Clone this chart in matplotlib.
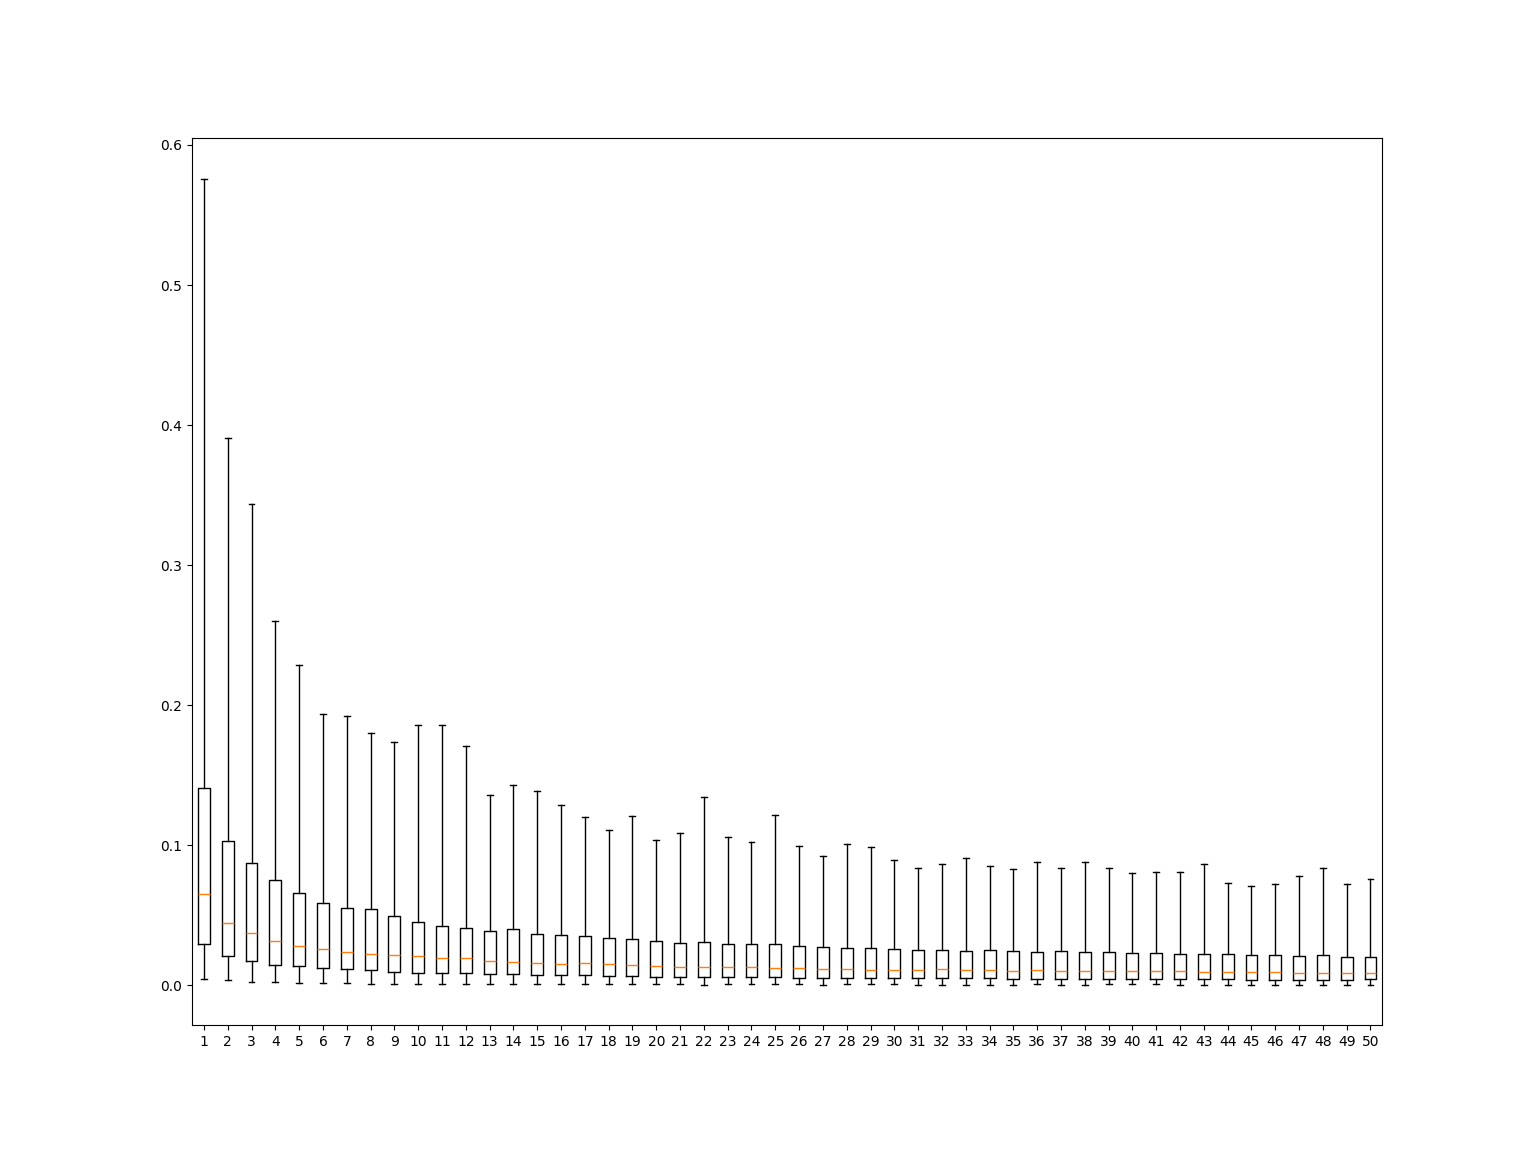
import matplotlib
matplotlib.use('Agg')
import matplotlib.pyplot as plt

# Box statistics (one entry per box, 1..50)
whis_lo = [0.0045, 0.0038, 0.0024, 0.0021, 0.0014, 0.0017, 0.0017, 0.0010, 0.0007, 0.0010,
           0.0012, 0.0010, 0.0010, 0.0010, 0.0010, 0.0010, 0.0010, 0.0010, 0.0012, 0.0010,
           0.0010, 0.0005, 0.0010, 0.0008, 0.0010, 0.0008, 0.0005, 0.0008, 0.0008, 0.0008,
           0.0005, 0.0005, 0.0005, 0.0005, 0.0003, 0.0008, 0.0003, 0.0005, 0.0008, 0.0008,
           0.0008, 0.0005, 0.0003, 0.0005, 0.0003, 0.0005, 0.0003, 0.0003, 0.0005, 0.0005]
q1 = [0.0295, 0.0212, 0.0176, 0.0148, 0.0136, 0.0121, 0.0114, 0.0107, 0.0093, 0.0090,
      0.0090, 0.0088, 0.0083, 0.0079, 0.0074, 0.0074, 0.0071, 0.0067, 0.0067, 0.0062,
      0.0062, 0.0062, 0.0060, 0.0057, 0.0057, 0.0055, 0.0055, 0.0055, 0.0052, 0.0052,
      0.0052, 0.0052, 0.0050, 0.0050, 0.0048, 0.0048, 0.0045, 0.0045, 0.0045, 0.0043,
      0.0045, 0.0043, 0.0043, 0.0043, 0.0040, 0.0040, 0.0040, 0.0040, 0.0040, 0.0043]
med = [0.0650, 0.0445, 0.0371, 0.0317, 0.0279, 0.0260, 0.0236, 0.0221, 0.0219, 0.0209,
       0.0193, 0.0193, 0.0176, 0.0167, 0.0162, 0.0155, 0.0159, 0.0152, 0.0148, 0.0138,
       0.0131, 0.0133, 0.0129, 0.0131, 0.0121, 0.0124, 0.0117, 0.0119, 0.0112, 0.0112,
       0.0107, 0.0114, 0.0112, 0.0110, 0.0105, 0.0107, 0.0105, 0.0105, 0.0102, 0.0100,
       0.0102, 0.0100, 0.0093, 0.0095, 0.0093, 0.0093, 0.0090, 0.0090, 0.0088, 0.0086]
q3 = [0.1407, 0.1030, 0.0874, 0.0750, 0.0662, 0.0590, 0.0555, 0.0543, 0.0493, 0.0450,
      0.0426, 0.0412, 0.0388, 0.0400, 0.0369, 0.0357, 0.0350, 0.0340, 0.0333, 0.0314,
      0.0305, 0.0312, 0.0298, 0.0298, 0.0298, 0.0283, 0.0274, 0.0264, 0.0267, 0.0260,
      0.0252, 0.0252, 0.0248, 0.0250, 0.0243, 0.0241, 0.0245, 0.0236, 0.0236, 0.0233,
      0.0233, 0.0226, 0.0224, 0.0226, 0.0219, 0.0214, 0.0209, 0.0214, 0.0205, 0.0205]
whis_hi = [0.576, 0.391, 0.344, 0.260, 0.2286, 0.1936, 0.192, 0.180, 0.1736, 0.1857,
           0.1857, 0.1707, 0.1357, 0.1429, 0.139, 0.1286, 0.120, 0.111, 0.121, 0.1036,
           0.1086, 0.1343, 0.1057, 0.1021, 0.1214, 0.0993, 0.0921, 0.1007, 0.0986, 0.0893,
           0.0836, 0.0864, 0.0907, 0.0850, 0.0829, 0.0879, 0.0836, 0.0879, 0.0836, 0.0800,
           0.0807, 0.0807, 0.0864, 0.0733, 0.0707, 0.0721, 0.0779, 0.0836, 0.0726, 0.0757]

stats = []
for i in range(len(med)):
    stats.append({
        'whislo': whis_lo[i], 'q1': q1[i], 'med': med[i],
        'q3': q3[i], 'whishi': whis_hi[i], 'fliers': [],
    })

fig, ax = plt.subplots(figsize=(15.36, 11.52), dpi=100)
ax.bxp(stats, positions=list(range(1, len(stats) + 1)), showfliers=False)

plt.savefig('out.png', dpi=100)
plt.close()
